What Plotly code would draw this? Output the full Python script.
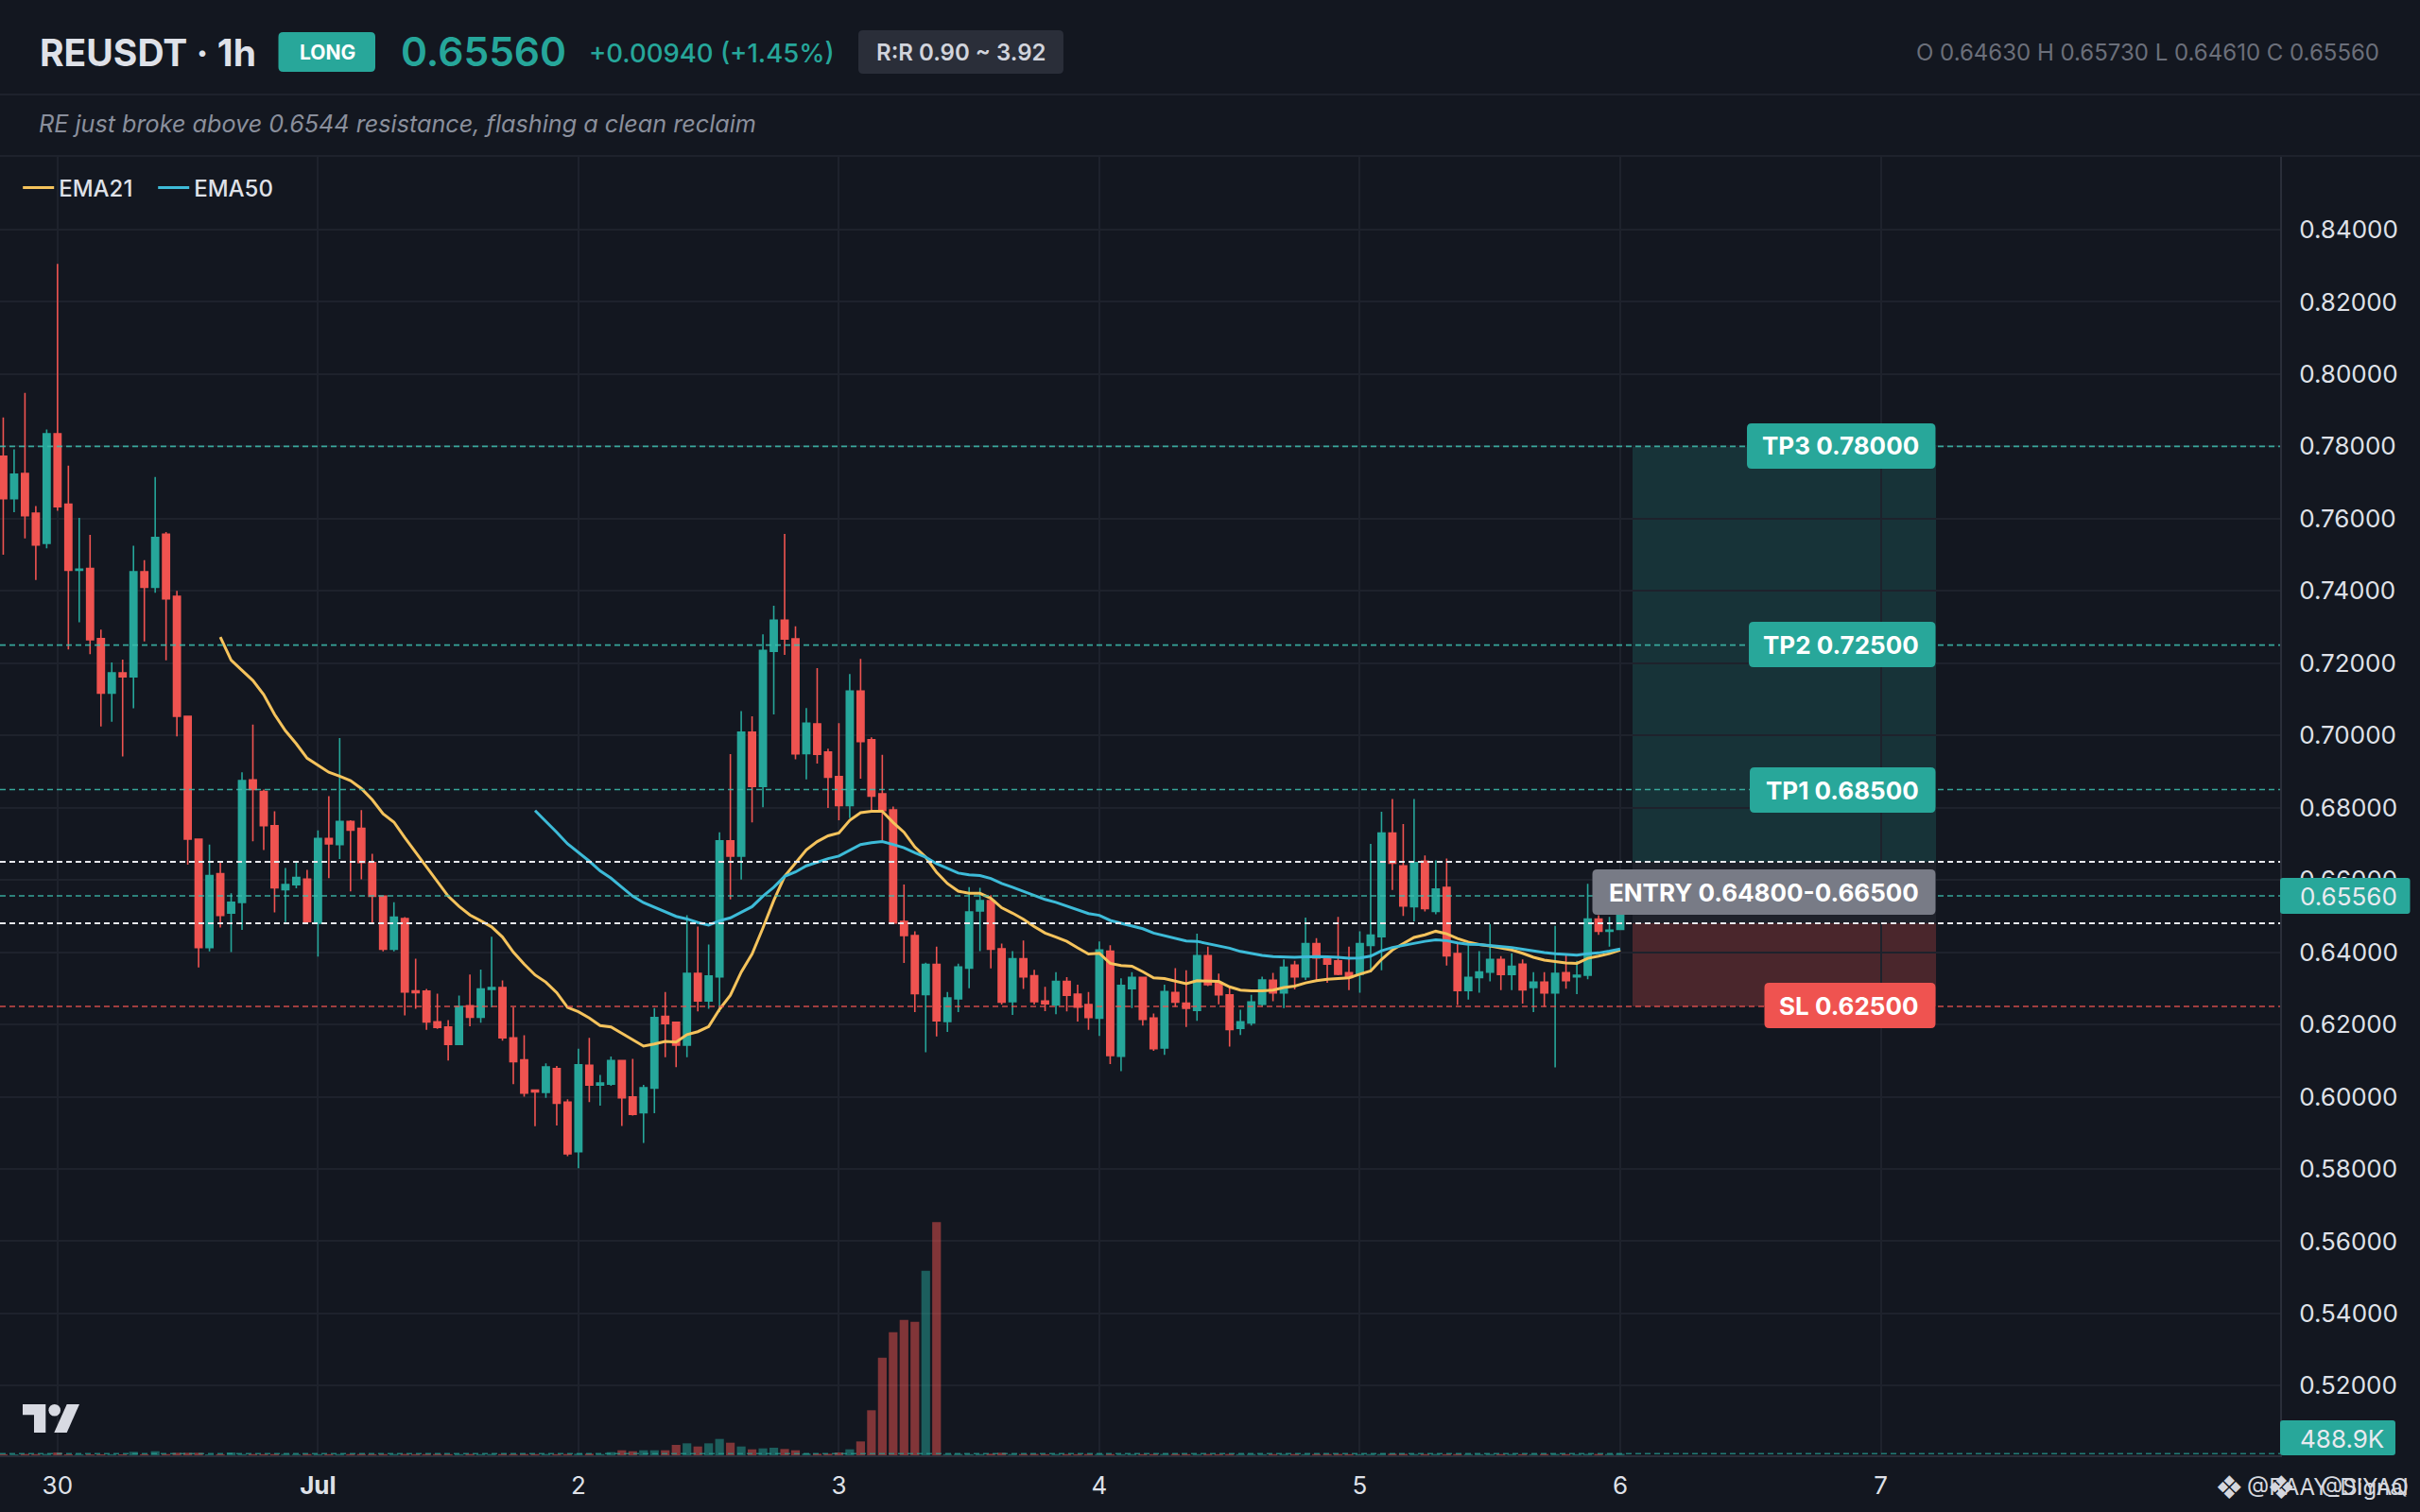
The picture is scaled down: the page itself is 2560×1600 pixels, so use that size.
import pandas as pd
import plotly.graph_objects as go

W = 2560
H = 1600
BG = '#131720'
GRID = '#1e222c'
AXIS = '#2a2e39'
GREEN = '#26a69a'
RED = '#ef5350'
FONT = 'Inter'

# hourly candles, first bar 29 Jun 19:00
times = pd.date_range('2025-06-29 19:00', periods=150, freq='h')

opens = [
    .7773, .7655, .7725, .7615, .7532, .7835, .7640, .7457, .7462, .7268,
    .7117, .7173, .7162, .7453, .7410, .7557, .7385, .7053, .6713, .6413,
    .6617, .6508, .6538, .6877, .6845, .6750, .6573, .6587, .6602, .6480,
    .6715, .6698, .6762, .6743, .6648, .6555, .6408, .6493, .6293, .6292,
    .6207, .6193, .6145, .6252, .6220, .6297, .6302, .6163, .6102, .6018,
    .6012, .6078, .5985, .5848, .6087, .6032, .6035, .6100, .5999, .5956,
    .6024, .6222, .6206, .6143, .6341, .6265, .6332, .6708, .6666, .7009,
    .6859, .7233, .7319, .7267, .6950, .7032, .6954, .6886, .6806, .7123,
    .6988, .6838, .6794, .6485, .6446, .6283, .6366, .6208, .6271, .6356,
    .6514, .6543, .6409, .6263, .6382, .6335, .6265, .6254, .6319, .6284,
    .6255, .6217, .6403, .6112, .6299, .6330, .6218, .6135, .6288, .6259,
    .6239, .6390, .6316, .6282, .6189, .6204, .6256, .6322, .6287, .6364,
    .6332, .6424, .6382, .6376, .6343, .6339, .6419, .6443, .6730, .6639,
    .6526, .6652, .6513, .6579, .6396, .6294, .6330, .6345, .6380, .6338,
    .6367, .6302, .6317, .6287, .6343, .6332, .6336, .6492, .6458, .6463,
]
highs = [
    .7880, .7792, .7948, .7635, .7847, .8305, .7747, .7602, .7555, .7293,
    .7202, .7210, .7525, .7485, .7715, .7563, .7400, .7055, .6715, .6698,
    .6650, .6563, .6898, .7030, .6850, .6790, .6633, .6652, .6628, .6737,
    .6832, .6993, .6765, .6793, .6672, .6557, .6538, .6497, .6382, .6298,
    .6285, .6212, .6280, .6338, .6352, .6443, .6322, .6248, .6170, .6020,
    .6092, .6085, .5993, .6133, .6163, .6060, .6111, .6102, .6105, .6033,
    .6245, .6290, .6208, .6502, .6471, .6421, .6732, .6948, .7067, .7053,
    .7280, .7359, .7558, .7302, .7076, .7186, .6963, .7034, .7170, .7212,
    .6995, .6946, .6803, .6587, .6458, .6371, .6415, .6290, .6368, .6580,
    .6578, .6558, .6424, .6403, .6432, .6351, .6304, .6345, .6331, .6310,
    .6290, .6430, .6419, .6328, .6345, .6332, .6230, .6310, .6356, .6350,
    .6451, .6415, .6341, .6306, .6241, .6282, .6332, .6343, .6380, .6376,
    .6496, .6439, .6389, .6498, .6415, .6458, .6700, .6789, .6824, .6755,
    .6824, .6668, .6654, .6659, .6428, .6419, .6403, .6478, .6389, .6397,
    .6380, .6345, .6345, .6473, .6393, .6376, .6589, .6502, .6498, .6573,
]
lows = [
    .7500, .7618, .7545, .7430, .7518, .7622, .7238, .7313, .7225, .7025,
    .7038, .6942, .7075, .7260, .7395, .7208, .6997, .6642, .6358, .6402,
    .6468, .6400, .6462, .6707, .6683, .6510, .6483, .6577, .6482, .6388,
    .6605, .6658, .6568, .6602, .6480, .6402, .6402, .6225, .6243, .6185,
    .6188, .6100, .6143, .6195, .6205, .6247, .6155, .6035, .6000, .5918,
    .5997, .5920, .5835, .5802, .5985, .5975, .6030, .5919, .5948, .5872,
    .5954, .6109, .6082, .6109, .6236, .6243, .6234, .6546, .6601, .6759,
    .6801, .7058, .7223, .6934, .6878, .6922, .6799, .6765, .6771, .6880,
    .6794, .6710, .6478, .6370, .6234, .6123, .6167, .6179, .6234, .6300,
    .6403, .6355, .6255, .6226, .6298, .6255, .6237, .6228, .6236, .6208,
    .6185, .6168, .6090, .6071, .6245, .6197, .6127, .6116, .6249, .6193,
    .6210, .6306, .6256, .6139, .6171, .6197, .6249, .6264, .6245, .6297,
    .6323, .6323, .6315, .6336, .6295, .6288, .6345, .6350, .6572, .6500,
    .6485, .6513, .6505, .6363, .6254, .6269, .6288, .6319, .6295, .6295,
    .6258, .6234, .6249, .6081, .6299, .6284, .6325, .6448, .6415, .6461,
]
closes = [
    .7655, .7723, .7608, .7527, .7835, .7633, .7457, .7460, .7265, .7117,
    .7173, .7162, .7453, .7410, .7548, .7378, .7053, .6713, .6413, .6612,
    .6502, .6538, .6875, .6850, .6750, .6578, .6587, .6607, .6485, .6715,
    .6700, .6762, .6738, .6648, .6555, .6408, .6497, .6290, .6288, .6207,
    .6192, .6145, .6250, .6220, .6298, .6302, .6163, .6097, .6010, .6013,
    .6082, .5982, .5842, .6088, .6032, .6038, .6100, .5997, .5951, .6025,
    .6219, .6202, .6143, .6341, .6265, .6334, .6708, .6666, .7009, .6859,
    .7235, .7319, .7267, .6949, .7034, .6948, .6884, .6806, .7123, .6983,
    .6832, .6792, .6481, .6446, .6285, .6366, .6210, .6273, .6359, .6511,
    .6543, .6408, .6262, .6382, .6332, .6263, .6257, .6319, .6281, .6248,
    .6219, .6406, .6114, .6308, .6330, .6214, .6133, .6291, .6262, .6245,
    .6390, .6310, .6282, .6186, .6207, .6262, .6323, .6287, .6358, .6332,
    .6424, .6384, .6367, .6339, .6330, .6424, .6447, .6730, .6646, .6528,
    .6648, .6521, .6575, .6390, .6294, .6330, .6345, .6380, .6338, .6361,
    .6296, .6317, .6287, .6341, .6321, .6336, .6492, .6458, .6461, .6556,
]
# volume in thousands
volumes = [
    350, 300, 420, 380, 450, 900, 300, 350, 280, 320,
    360, 300, 1100, 350, 1300, 400, 800, 800, 800, 300,
    350, 900, 380, 400, 360, 380, 420, 350, 400, 380,
    360, 420, 380, 400, 350, 380, 400, 420, 360, 380,
    400, 350, 380, 420, 360, 400, 380, 350, 400, 380,
    420, 360, 400, 500, 500, 400, 1000, 1600, 1300, 1600,
    1600, 1600, 3300, 3800, 2800, 3800, 5200, 4000, 2800, 1900,
    2200, 2400, 2000, 1600, 600, 500, 500, 900, 1900, 4400,
    14300, 31000, 39100, 43000, 42400, 58600, 74000, 400, 450, 380,
    420, 500, 800, 400, 380, 420, 360, 400, 380, 350,
    400, 420, 380, 360, 400, 350, 380, 420, 400, 360,
    380, 400, 350, 420, 380, 400, 360, 380, 420, 400,
    350, 380, 400, 420, 360, 380, 400, 420, 500, 450,
    400, 380, 420, 360, 400, 380, 350, 420, 380, 400,
    360, 380, 400, 420, 380, 360, 450, 420, 400, 488.9,
]
# EMA21 starts 30 Jun 15:00, EMA50 starts 1 Jul 20:00
ema21 = [
    .7272, .7208, .7180, .7152, .7113, .7058, .7013, .6977, .6937, .6917,
    .6898, .6887, .6875, .6853, .6822, .6783, .6760, .6717, .6677, .6635,
    .6597, .6555, .6527, .6503, .6487, .6470, .6442, .6400, .6367, .6337,
    .6317, .6288, .6247, .6235, .6218, .6197, .6193, .6175, .6156, .6140,
    .6146, .6153, .6151, .6172, .6180, .6194, .6242, .6281, .6345, .6395,
    .6467, .6543, .6610, .6648, .6683, .6706, .6722, .6730, .6765, .6786,
    .6790, .6790, .6759, .6732, .6691, .6663, .6621, .6590, .6569, .6563,
    .6563, .6549, .6523, .6508, .6491, .6471, .6453, .6442, .6430, .6412,
    .6395, .6397, .6369, .6363, .6361, .6346, .6329, .6327, .6320, .6313,
    .6321, .6320, .6319, .6304, .6295, .6293, .6293, .6295, .6302, .6306,
    .6315, .6321, .6325, .6327, .6329, .6339, .6348, .6380, .6406, .6424,
    .6441, .6448, .6458, .6451, .6438, .6428, .6421, .6417, .6411, .6406,
    .6397, .6386, .6378, .6374, .6370, .6369, .6383, .6389, .6396, .6406,
]
ema50 = [
    .6792, .6763, .6732, .6700, .6677, .6652, .6625, .6605, .6580, .6555,
    .6537, .6524, .6513, .6499, .6492, .6482, .6475, .6487, .6495, .6511,
    .6526, .6555, .6580, .6610, .6622, .6639, .6650, .6659, .6666, .6683,
    .6698, .6703, .6706, .6698, .6689, .6675, .6663, .6645, .6631, .6619,
    .6614, .6612, .6604, .6590, .6580, .6569, .6557, .6546, .6538, .6528,
    .6517, .6507, .6502, .6488, .6480, .6473, .6465, .6453, .6445, .6438,
    .6431, .6430, .6424, .6419, .6411, .6402, .6396, .6391, .6388, .6387,
    .6386, .6387, .6388, .6387, .6386, .6383, .6384, .6389, .6404, .6413,
    .6419, .6426, .6430, .6434, .6432, .6426, .6422, .6421, .6418, .6415,
    .6413, .6408, .6403, .6399, .6396, .6394, .6392, .6396, .6398, .6403,
    .6409,
]

price_ticks = [.52, .54, .56, .58, .60, .62, .64, .66, .68, .70, .72, .74, .76, .78, .80, .82, .84]
day_ticks = ['2025-06-30', '2025-07-01', '2025-07-02', '2025-07-03', '2025-07-04',
             '2025-07-05', '2025-07-06', '2025-07-07']
day_labels = ['30', '<b>Jul</b>', '2', '3', '4', '5', '6', '7']

tp_levels = [.78, .725, .685]
entry_low = .648
entry_high = .665
stop_loss = .625
last_price = .6556
last_volume = volumes[-1]


def px(x):
    return x / W


def py(y):
    return 1 - y / H


def rounded(x0, y0, x1, y1, r=5):
    # rounded rectangle path in paper coords, from screen pixels
    pts = [
        ('M', x0 + r, y0), ('L', x1 - r, y0), ('Q', x1, y0, x1, y0 + r),
        ('L', x1, y1 - r), ('Q', x1, y1, x1 - r, y1), ('L', x0 + r, y1),
        ('Q', x0, y1, x0, y1 - r), ('L', x0, y0 + r), ('Q', x0, y0, x0 + r, y0),
    ]
    out = ''
    for p in pts:
        vals = p[1:]
        coords = [f'{px(vals[i]):.5f},{py(vals[i + 1]):.5f}' for i in range(0, len(vals), 2)]
        out += p[0] + ' '.join(coords) + ' '
    return out + 'Z'


def chip(x0, y0, x1, y1, color, r=5):
    return dict(type='path', xref='paper', yref='paper', path=rounded(x0, y0, x1, y1, r),
                fillcolor=color, line=dict(width=0), layer='above')


def text(s, x, y, size, color, anchor='left', weight=400, family=FONT):
    return dict(text=s, x=px(x), y=py(y + 1.5), xref='paper', yref='paper', xanchor=anchor, yanchor='middle',
                showarrow=False, font=dict(family=family, size=size, color=color, weight=weight))


def level(y, color, width=1.6):
    return dict(type='line', xref='x domain', yref='y', x0=0, x1=1, y0=y, y1=y, layer='above',
                line=dict(color=color, width=width, dash='6px,4px'))


vol_colors = ['rgba(38,166,154,0.5)' if c >= o else 'rgba(239,83,80,0.5)' for o, c in zip(opens, closes)]

fig = go.Figure()
fig.add_bar(x=times, y=volumes, yaxis='y2', marker=dict(color=vol_colors, line=dict(width=0)),
            width=0.8 * 3600000, showlegend=False)
fig.add_candlestick(x=times, open=opens, high=highs, low=lows, close=closes, showlegend=False,
                    increasing=dict(line=dict(color=GREEN, width=1.6), fillcolor=GREEN),
                    decreasing=dict(line=dict(color=RED, width=1.6), fillcolor=RED))
fig.add_scatter(x=times[20:], y=ema21, mode='lines', name='EMA21', line=dict(color='#f5c35c', width=3))
fig.add_scatter(x=times[49:], y=ema50, mode='lines', name='EMA50', line=dict(color='#3dbbd8', width=3))

shapes = [
    # header separators
    dict(type='line', xref='paper', yref='paper', x0=0, x1=1, y0=py(100), y1=py(100), line=dict(color=GRID, width=2)),
    dict(type='line', xref='paper', yref='paper', x0=0, x1=1, y0=py(165), y1=py(165), line=dict(color=GRID, width=2)),
    # trade zones
    dict(type='rect', xref='paper', yref='y', x0=px(1727), x1=px(2048), y0=entry_high, y1=tp_levels[0],
         fillcolor='rgba(38,166,154,0.2)', line=dict(width=0), layer='between'),
    dict(type='rect', xref='paper', yref='y', x0=px(1727), x1=px(2048), y0=entry_low, y1=entry_high,
         fillcolor='rgba(255,255,255,0.05)', line=dict(width=0), layer='between'),
    dict(type='rect', xref='paper', yref='y', x0=px(1727), x1=px(2048), y0=stop_loss, y1=entry_low,
         fillcolor='rgba(239,83,80,0.25)', line=dict(width=0), layer='between'),
]
for tp in tp_levels:
    shapes.append(level(tp, 'rgba(62,190,175,0.85)'))
shapes.append(level(last_price, 'rgba(62,190,175,0.85)'))
shapes.append(level(entry_high, '#e8e9ee', 2))
shapes.append(level(entry_low, '#e8e9ee', 2))
shapes.append(level(stop_loss, 'rgba(239,83,80,0.85)'))
shapes.append(dict(type='line', xref='x domain', yref='y2', x0=0, x1=1, y0=last_volume, y1=last_volume,
                   layer='above', line=dict(color='rgba(38,166,154,0.7)', width=1.5, dash='6px,4px')))
shapes += [
    chip(1848, 448, 2047.5, 496, '#28a79a'),
    chip(1850, 658, 2047.5, 706, '#28a79a'),
    chip(1851, 812, 2047.5, 860, '#28a79a'),
    chip(1684.5, 920, 2047.5, 968, '#787b86'),
    chip(1866.5, 1040, 2047.5, 1088, '#ef5350'),
    chip(2412, 929, 2549.5, 967, '#28a79a', 3),
    chip(2412, 1503, 2534, 1540, '#28a79a', 3),
    chip(294.5, 34, 397, 76, '#28a79a', 5),
    chip(908, 32, 1125, 78, '#2a2e39', 5),
    # tradingview mark
    dict(type='path', xref='paper', yref='paper', layer='above', fillcolor='#d8dae2', line=dict(width=0),
         path=f'M{px(24)},{py(1486)} L{px(48.3)},{py(1486)} L{px(48.3)},{py(1516)} L{px(36)},{py(1516)} '
              f'L{px(36)},{py(1497.3)} L{px(24)},{py(1497.3)} Z'),
    dict(type='path', xref='paper', yref='paper', layer='above', fillcolor='#d8dae2', line=dict(width=0),
         path=f'M{px(70.7)},{py(1486)} L{px(84)},{py(1486)} L{px(70.7)},{py(1516)} L{px(57.3)},{py(1516)} Z'),
    dict(type='circle', xref='paper', yref='paper', layer='above', fillcolor='#d8dae2', line=dict(width=0),
         x0=px(51.4), x1=px(64), y0=py(1486), y1=py(1498.6)),
]

annotations = [
    text('REUSDT · 1h', 40, 54, 39, '#dfe1e8', weight=700),
    text('LONG', 346, 54, 21, '#ffffff', 'center', 700),
    text('0.65560', 422, 53, 42.5, GREEN, weight=600),
    text('+0.00940 (+1.45%)', 621, 55, 27.5, GREEN, weight=500),
    text('R:R 0.90 ~ 3.92', 1016, 54, 24, '#d1d4dc', 'center', 600),
    text('O 0.64630 H 0.65730 L 0.64610 C 0.65560', 2519, 54, 24, '#6b6f7a', 'right'),
    text('<i>RE just broke above 0.6544 resistance, flashing a clean reclaim</i>', 39, 130, 25.2, '#8a8f9c'),
    text('TP3 0.78000', 2032, 470.5, 26, '#ffffff', 'right', 700),
    text('TP2 0.72500', 2032, 681, 26, '#ffffff', 'right', 700),
    text('TP1 0.68500', 2032, 834.5, 26, '#ffffff', 'right', 700),
    text('ENTRY 0.64800-0.66500', 2032, 942.5, 26, '#ffffff', 'right', 700),
    text('SL 0.62500', 2032, 1063, 26, '#ffffff', 'right', 700),
    text('0.65560', 2484, 947, 26, '#e8eaf0', 'center'),
    text('488.9K', 2477, 1521, 26, '#e8eaf0', 'center'),
    text('❖', 2358, 1572, 34, '#d5d7de', 'center', family='DejaVu Sans'),
    text('❖', 2413, 1572, 34, '#d5d7de', 'center', family='DejaVu Sans'),
    text('@RAAY_DIYAQ', 2550, 1572, 24, '#d5d7de', 'right'),
    text('@Signal', 2550, 1572, 24, '#d5d7de', 'right'),
]

fig.update_layout(
    width=W, height=H, margin=dict(l=0, r=0, t=0, b=0),
    paper_bgcolor=BG, plot_bgcolor=BG, boxgap=0.1, bargap=0.2, hovermode=False,
    font=dict(family=FONT, color='#d1d4dc', size=26),
    shapes=shapes, annotations=annotations,
    legend=dict(orientation='h', x=0.0075, y=py(199), xanchor='left', yanchor='middle',
                bgcolor='rgba(0,0,0,0)', font=dict(size=24, color='#dfe1e8', family=FONT, weight=500),
                itemwidth=33, entrywidth=95, entrywidthmode='pixels'),
    xaxis=dict(domain=[0, 2412 / W], type='date', rangeslider=dict(visible=False),
               range=['2025-06-29 18:42', '2025-07-08 12:48'], tickmode='array', tickvals=day_ticks,
               ticktext=day_labels, showgrid=True, gridcolor=GRID, gridwidth=2, zeroline=False,
               showline=True, linecolor=AXIS, linewidth=2, ticks='outside', ticklen=8,
               tickcolor='rgba(0,0,0,0)', tickfont=dict(size=26, color='#dfe1e8'), anchor='y'),
    yaxis=dict(domain=[py(1540), py(165)], range=[0.50074, 0.8604], side='right', tickmode='array',
               tickvals=price_ticks, tickformat='.5f', showgrid=True, gridcolor=GRID, gridwidth=2,
               zeroline=False, showline=True, linecolor=AXIS, linewidth=2, ticks='outside', ticklen=13,
               tickcolor='rgba(0,0,0,0)', tickfont=dict(size=26, color='#dfe1e8')),
    yaxis2=dict(domain=[py(1540), py(165)], overlaying='y', range=[0, 412500], visible=False, anchor='x'),
)

fig.write_html('out.html', config=dict(displayModeBar=False),
               post_script="document.body.style.margin='0';document.body.style.background='" + BG + "';")
